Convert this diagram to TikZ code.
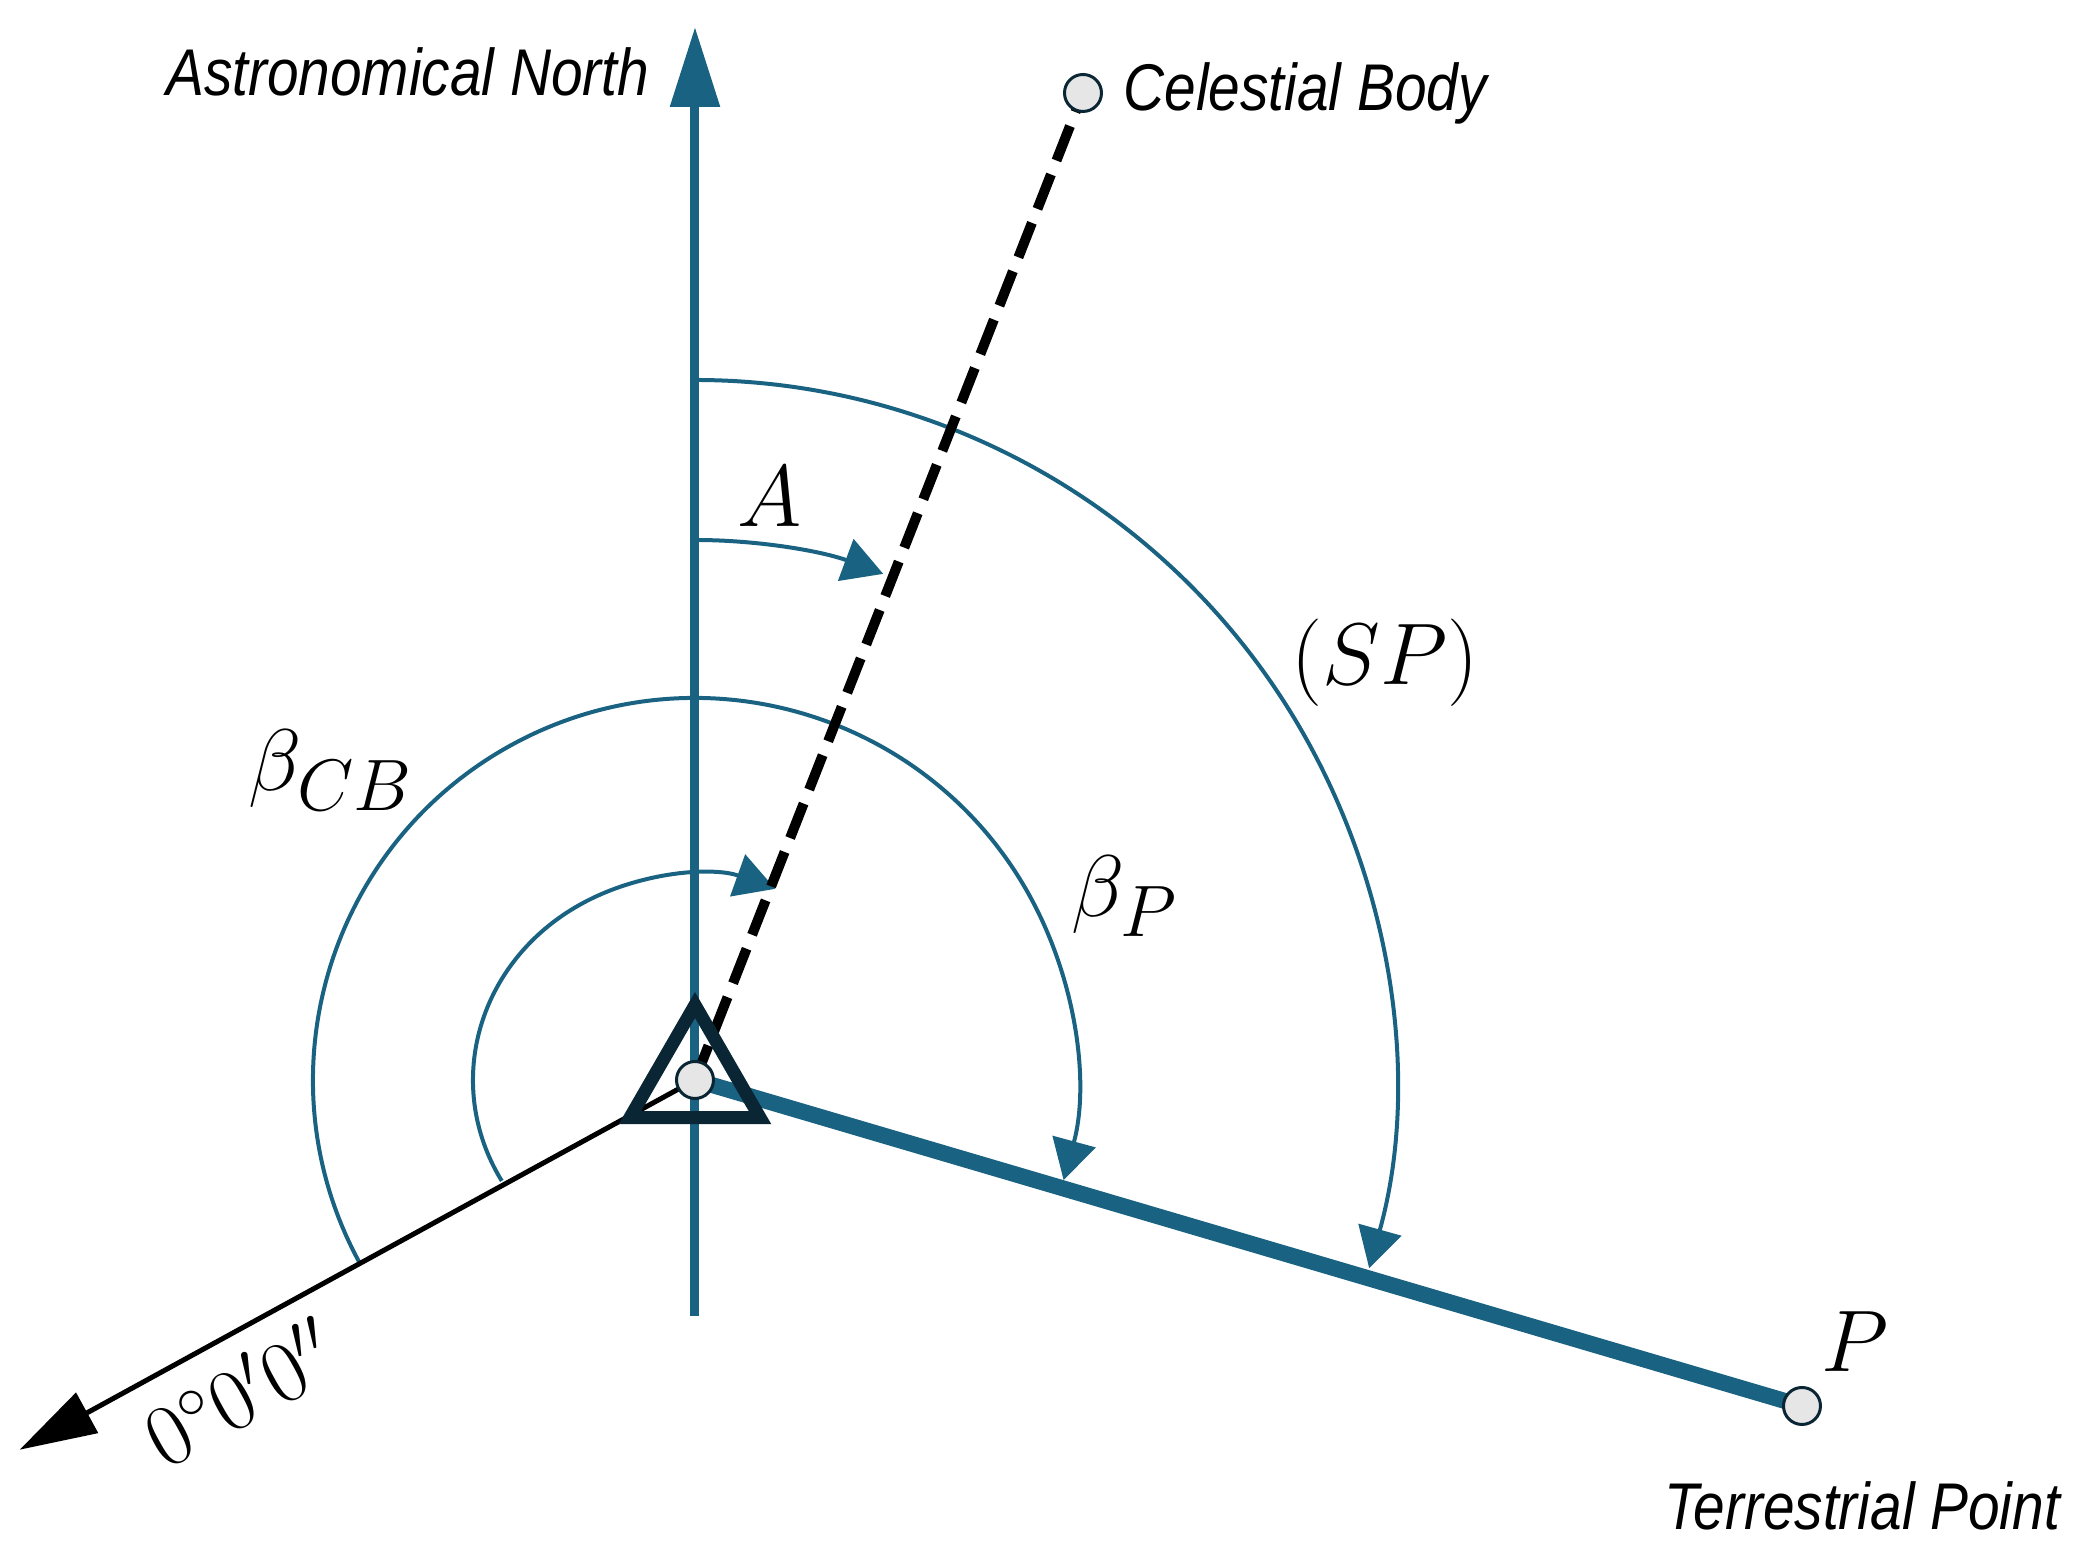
\documentclass[tikz,border=0pt]{standalone}
\usepackage{fontspec}
\newfontfamily\lblfont{Liberation Sans}[FakeStretch=0.86]
\usetikzlibrary{arrows.meta,backgrounds,calc,positioning}
\definecolor{azblue}{HTML}{1A6282}
\definecolor{azdark}{HTML}{0A2533}
\definecolor{azfill}{HTML}{E6E6E6}
\tikzset{
  station/.style={circle,draw=azdark,fill=azfill,line width=0.85pt,minimum size=0.37cm,inner sep=0pt},
  lbl/.style={font={\lblfont\itshape\fontsize{18.8}{22}\selectfont},inner sep=0pt},
  mlbl/.style={font={\fontsize{29}{33}\selectfont},inner sep=0pt},
  angarc/.style={azblue,line width=0.04cm,-{Triangle[length=0.4cm,width=0.44cm]}}
}
\begin{document}
\begin{tikzpicture}
    \useasboundingbox (-6.95,-4.74) rectangle (14.05,10.80);
    \node[station] (O) at (0,0) {};
    \node[station] (CB) at (3.88,9.87) {};
    \node[station] (P) at (11.07,-3.26) {};
    \coordinate (nbot) at (0,-2.36);
    \coordinate (ntip) at (0,10.53);
    \coordinate (zero) at (208.7:7.7);
    \begin{scope}[on background layer]
    \draw[angarc] (90:5.40) arc[start angle=90,end angle=69.6,radius=5.40];
    \draw[angarc] (90:7.0) arc[start angle=90,end angle=-15.6,radius=7.0];
    \draw[angarc] (208.7:3.82) arc[start angle=208.7,end angle=-15.2,radius=3.82];
    \draw[angarc] (209.5:2.22 and 2.05) arc[start angle=209.5,end angle=68.8,x radius=2.22,y radius=2.05];
    \draw[azblue,line width=0.09cm,-{Triangle[length=0.8cm,width=0.48cm]}] (nbot) -- (ntip);
    \draw[black,line width=0.05cm,-{Triangle[length=0.77cm,width=0.45cm]}] (O.center) -- (zero);
    \draw[black,line width=0.1cm,dash pattern=on 0.37cm off 0.15cm] (O.center) -- (CB.center);
    \draw[azblue,line width=0.16cm] (O.center) -- (P.center);
    \draw[azdark,line width=0.13cm,line join=miter] ($(O)+(90:0.75)$) -- ++(240:1.30) -- ++(0:1.30) -- cycle;
    \end{scope}
    \node[lbl,anchor=east] (north lbl) at (-0.45,10.08) {Astronomical North};
    \node[lbl,right=0.2cm of CB] (cb lbl) {Celestial Body};
    \node[lbl] (tp lbl) at (11.67,-4.26) {Terrestrial Point};
    \node[mlbl] (p lbl) at (11.60,-2.62) {$P$};
    \node[mlbl] (a lbl) at (0.75,5.83) {$A$};
    \node[mlbl] (sp lbl) at (6.90,4.17) {$(SP)$};
    \node[mlbl] (bcb lbl) at (-3.64,3.10) {$\beta_{CB}$};
    \node[mlbl] (bp lbl) at (4.30,1.84) {$\beta_P$};
    \node[font={\fontsize{23}{27}\selectfont},inner sep=0pt,rotate=28.7] (zero lbl) at (-4.55,-3.12) {$0^\circ 0' 0''$};
\end{tikzpicture}
\end{document}
